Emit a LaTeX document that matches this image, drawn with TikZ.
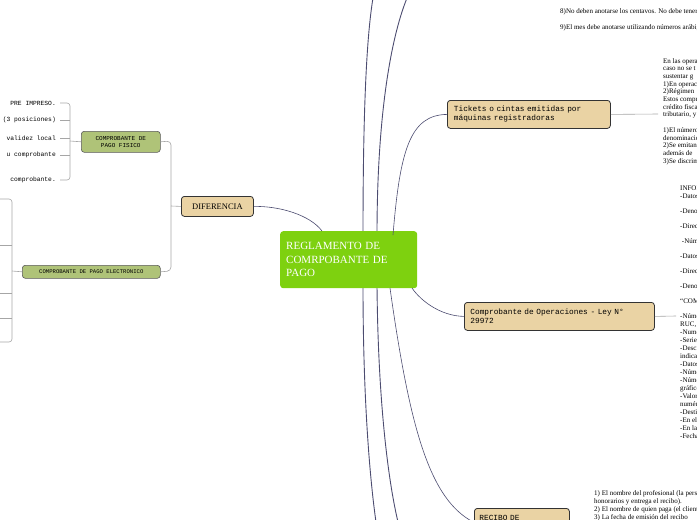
\documentclass[tikz,border=0pt]{standalone}
\usepackage{fontspec}
\setmainfont{Liberation Serif}
\newfontfamily\monof{Liberation Mono}
\begin{document}
\begin{tikzpicture}[x=1pt,y=-1pt,
  conn/.style={draw=black!65!blue!40!gray, line width=0.9pt},
  thin/.style={draw=gray!70, line width=0.6pt},
  beige/.style={draw=black!80, fill={rgb,255:red,234;green,211;blue,164}, rounded corners=3pt, line width=0.8pt, inner sep=4pt},
  greenb/.style={draw=gray!70!black, fill={rgb,255:red,175;green,195;blue,120}, rounded corners=3pt, line width=0.6pt, inner sep=2pt, font=\monof\fontsize{6}{7.5}\selectfont, align=center},
  txt/.style={font=\fontsize{7}{7.7}\selectfont, align=left, inner sep=0pt, anchor=north west},
  mtxt/.style={font=\monof\fontsize{6.3}{7}\selectfont, inner sep=0pt, anchor=east}]
\useasboundingbox (0,0) rectangle (697,520);
\clip (0,0) rectangle (697,520);
\coordinate (t1) at (373,-2);
\coordinate (t2) at (407,-2);
\coordinate (b1) at (376,522);
\coordinate (b2) at (398,522);
\draw[conn] (363,235) .. controls (363,120) and (366,40) .. (t1);
\draw[conn] (377,235) .. controls (377,120) and (390,40) .. (t2);
\draw[conn] (363,285) .. controls (363,400) and (370,480) .. (b1);
\draw[conn] (377,285) .. controls (378,400) and (388,480) .. (b2);
\node[beige, font=\monof\fontsize{7.8}{9}\selectfont, align=left, minimum width=163pt, minimum height=28pt, anchor=north west, text width=150pt] (tick) at (447,100) {Tickets o cintas emitidas por\\máquinas registradoras};
\node[beige, font=\monof\fontsize{7.8}{9}\selectfont, align=left, minimum width=190pt, minimum height=28pt, anchor=north west, text width=178pt] (ley) at (464,302) {Comprobante de Operaciones - Ley N°\\29972};
\node[beige, font=\monof\fontsize{7.8}{9}\selectfont, align=left, minimum width=95pt, minimum height=28pt, anchor=north west, text width=85pt] (rec) at (474,508) {RECIBO DE\\HONORARIOS};
\node[beige, font=\fontsize{8.5}{9}\selectfont, minimum width=72pt, minimum height=20pt, anchor=north west] (dif) at (181,196) {DIFERENCIA};
\node[fill={rgb,255:red,126;green,209;blue,15}, rounded corners=3pt, minimum width=137pt, minimum height=57pt, anchor=north west, text=white, font=\fontsize{11}{13.5}\selectfont, align=left, text width=125pt] (root) at (280,231) {REGLAMENTO DE\\COMRPOBANTE DE\\PAGO};
\draw[conn, line width=0.6pt] (393,235) .. controls (400,150) and (410,115) .. (tick.west);
\draw[conn, line width=0.6pt] (412,288) .. controls (420,300) and (440,316) .. (ley.west);
\draw[conn, line width=0.6pt] (390,288) .. controls (410,430) and (430,500) .. (rec.west);
\draw[conn, line width=0.6pt] (322,231) .. controls (310,215) and (280,206) .. (dif.east);
\node[greenb, minimum width=79pt, minimum height=21pt, anchor=north west] (fis) at (81,131) {COMPROBANTE DE\\PAGO FISICO};
\node[greenb, minimum width=138pt, minimum height=13pt, anchor=north west, font=\monof\fontsize{5.6}{7}\selectfont] (ele) at (22,265) {COMPROBANTE DE PAGO ELECTRONICO};
\draw[thin] (dif.west) -- (171,206);
\draw[thin, rounded corners=4pt] (fis.east) -- (171,141) -- (171,271) -- (ele.east);
\node[mtxt] (l1) at (56,103) {PRE IMPRESO.};
\node[mtxt] (l2) at (56,120) {(3 posiciones)};
\node[mtxt] (l3) at (56,138) {validez local};
\node[mtxt] (l4) at (56,155) {u comprobante};
\node[mtxt] (l5) at (56,180) {comprobante.};
\draw[thin] (fis.west) -- (70,141);
\draw[thin, rounded corners=3pt] (60,103) -- (70,103) -- (70,180) -- (60,180);
\draw[thin] (60,120) -- (70,120) (60,138) -- (70,138) (60,155) -- (70,155);
\draw[thin] (ele.west) -- (12,271);
\draw[thin, rounded corners=3pt] (0,199) -- (12,199) -- (12,342) -- (0,342);
\draw[thin] (0,245) -- (12,245) (0,293) -- (12,293) (0,318) -- (12,318);
\draw[thin] (ley.east) -- (676,316);
\draw[thin] (tick.east) -- (658,114);
\node[txt] (top) at (560,8) {8)No deben anotarse los centavos. No debe tener enmendaduras\\[9pt]9)El mes debe anotarse utilizando números arábigos};
\node[txt] (tt) at (663,58) {En las operaciones\\caso no se t\\sustentar g\\1)En operaciones\\2)Régimen\\Estos comprobantes\\crédito fiscal\\tributario, y\\[7.7pt]1)El número\\denominación\\2)Se emitan\\además de\\3)Se discrimine};
\node[txt, font=\fontsize{7}{8}\selectfont] (lt) at (680,184) {INFORMACIÓN\\-Datos\\[7pt]-Denominación\\[7pt]-Dirección\\[7pt]\ -Número\\[7pt]-Datos\\[7pt]-Dirección\\[7pt]-Denominación\\[7pt]``COMPROBANTE\\[7pt]-Número\\RUC,\\-Numeración\\-Serie\\-Descripción\\indicando\\-Datos\\-Número\\-Número\\gráfico\\-Valor\\numérico\\-Destino\\-En el\\-En la\\-Fecha};
\node[txt, font=\fontsize{7}{8}\selectfont] (rt) at (594,490) {1) El nombre del profesional (la persona que\\honorarios y entrega el recibo).\\2) El nombre de quien paga (el cliente)\\3) La fecha de emisión del recibo};
\end{tikzpicture}
\end{document}
